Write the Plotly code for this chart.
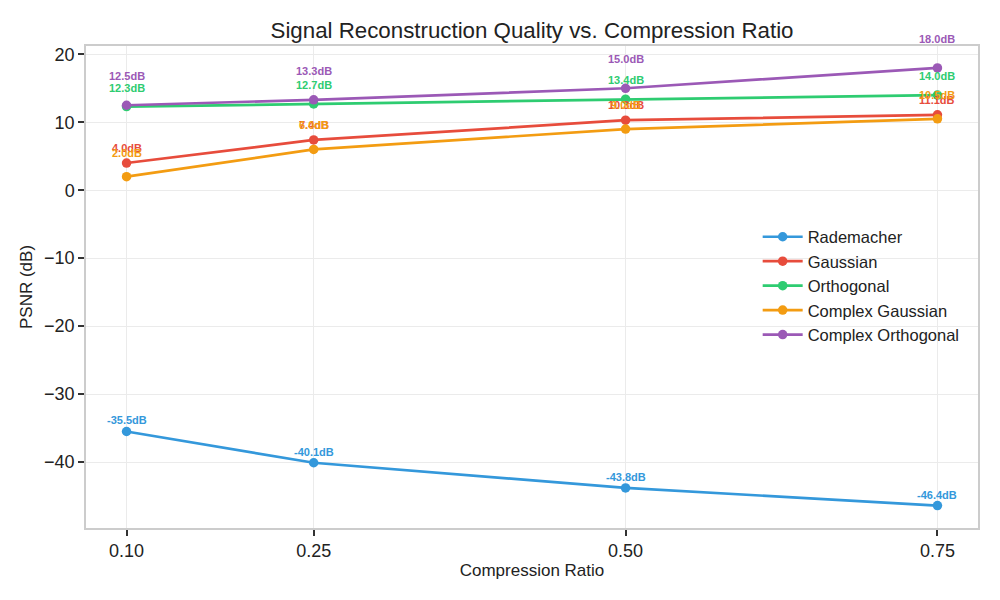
import plotly.graph_objects as go

ratios = [0.10, 0.25, 0.50, 0.75]
tick_labels = ["0.10", "0.25", "0.50", "0.75"]
series_names = ["Rademacher", "Gaussian", "Orthogonal", "Complex Gaussian", "Complex Orthogonal"]
rademacher = [-35.5, -40.1, -43.8, -46.4]
gaussian = [4.0, 7.4, 10.3, 11.1]
orthogonal = [12.3, 12.7, 13.4, 14.0]
complex_gaussian = [2.0, 6.0, 9.0, 10.5]
complex_orthogonal = [12.5, 13.3, 15.0, 18.0]
colors = ["#3498db", "#e74c3c", "#2ecc71", "#f39c12", "#9b59b6"]
label_shift = [11, 15, 19, 24, 29]

all_series = [rademacher, gaussian, orthogonal, complex_gaussian, complex_orthogonal]

fig = go.Figure()
annotations = []
for name, vals, col, sh in zip(series_names, all_series, colors, label_shift):
    fig.add_trace(go.Scatter(
        x=ratios, y=vals, name=name, mode="lines+markers",
        line=dict(color=col, width=2.7),
        marker=dict(color=col, size=9.5),
    ))
    for x, y in zip(ratios, vals):
        annotations.append(dict(
            x=x, y=y, xref="x", yref="y", text=f"<b>{y:.1f}dB</b>",
            showarrow=False, yshift=sh,
            font=dict(family="Liberation Sans, Arial, sans-serif", size=11, color=col),
        ))

fig.update_layout(
    width=1000, height=600,
    paper_bgcolor="white", plot_bgcolor="white",
    margin=dict(l=86, r=22, t=46, b=72),
    font=dict(family="Liberation Sans, Arial, sans-serif", color="#222"),
    title=dict(text="Signal Reconstruction Quality vs. Compression Ratio",
               x=0.532, xanchor="center", y=0.95, yanchor="middle",
               font=dict(size=22.3, color="#222")),
    annotations=annotations,
    legend=dict(x=0.753, y=0.64, xanchor="left", yanchor="top",
                bgcolor="rgba(255,255,255,0)", font=dict(size=16.5, color="#222"),
                tracegroupgap=0, itemwidth=40),
    showlegend=True,
)
fig.update_xaxes(
    range=[0.0675, 0.7825], tickvals=ratios, ticktext=tick_labels,
    showgrid=True, gridcolor="#ebebeb", gridwidth=1,
    showline=True, linecolor="#cccccc", linewidth=1.5, mirror=True,
    ticks="outside", ticklen=6, tickcolor="#333", tickwidth=1.5,
    tickfont=dict(size=18), zeroline=False,
    title=dict(text="Compression Ratio", font=dict(size=17), standoff=4),
)
fig.update_yaxes(
    range=[-49.7, 21.22], tickvals=[-40, -30, -20, -10, 0, 10, 20],
    ticktext=["\u221240", "\u221230", "\u221220", "\u221210", "0", "10", "20"],
    showgrid=True, gridcolor="#ebebeb", gridwidth=1,
    showline=True, linecolor="#cccccc", linewidth=1.5, mirror=True,
    ticks="outside", ticklen=6, tickcolor="#333", tickwidth=1.5,
    tickfont=dict(size=18), zeroline=False,
    title=dict(text="PSNR (dB)", font=dict(size=17), standoff=7),
)

fig.write_html("out.html")
